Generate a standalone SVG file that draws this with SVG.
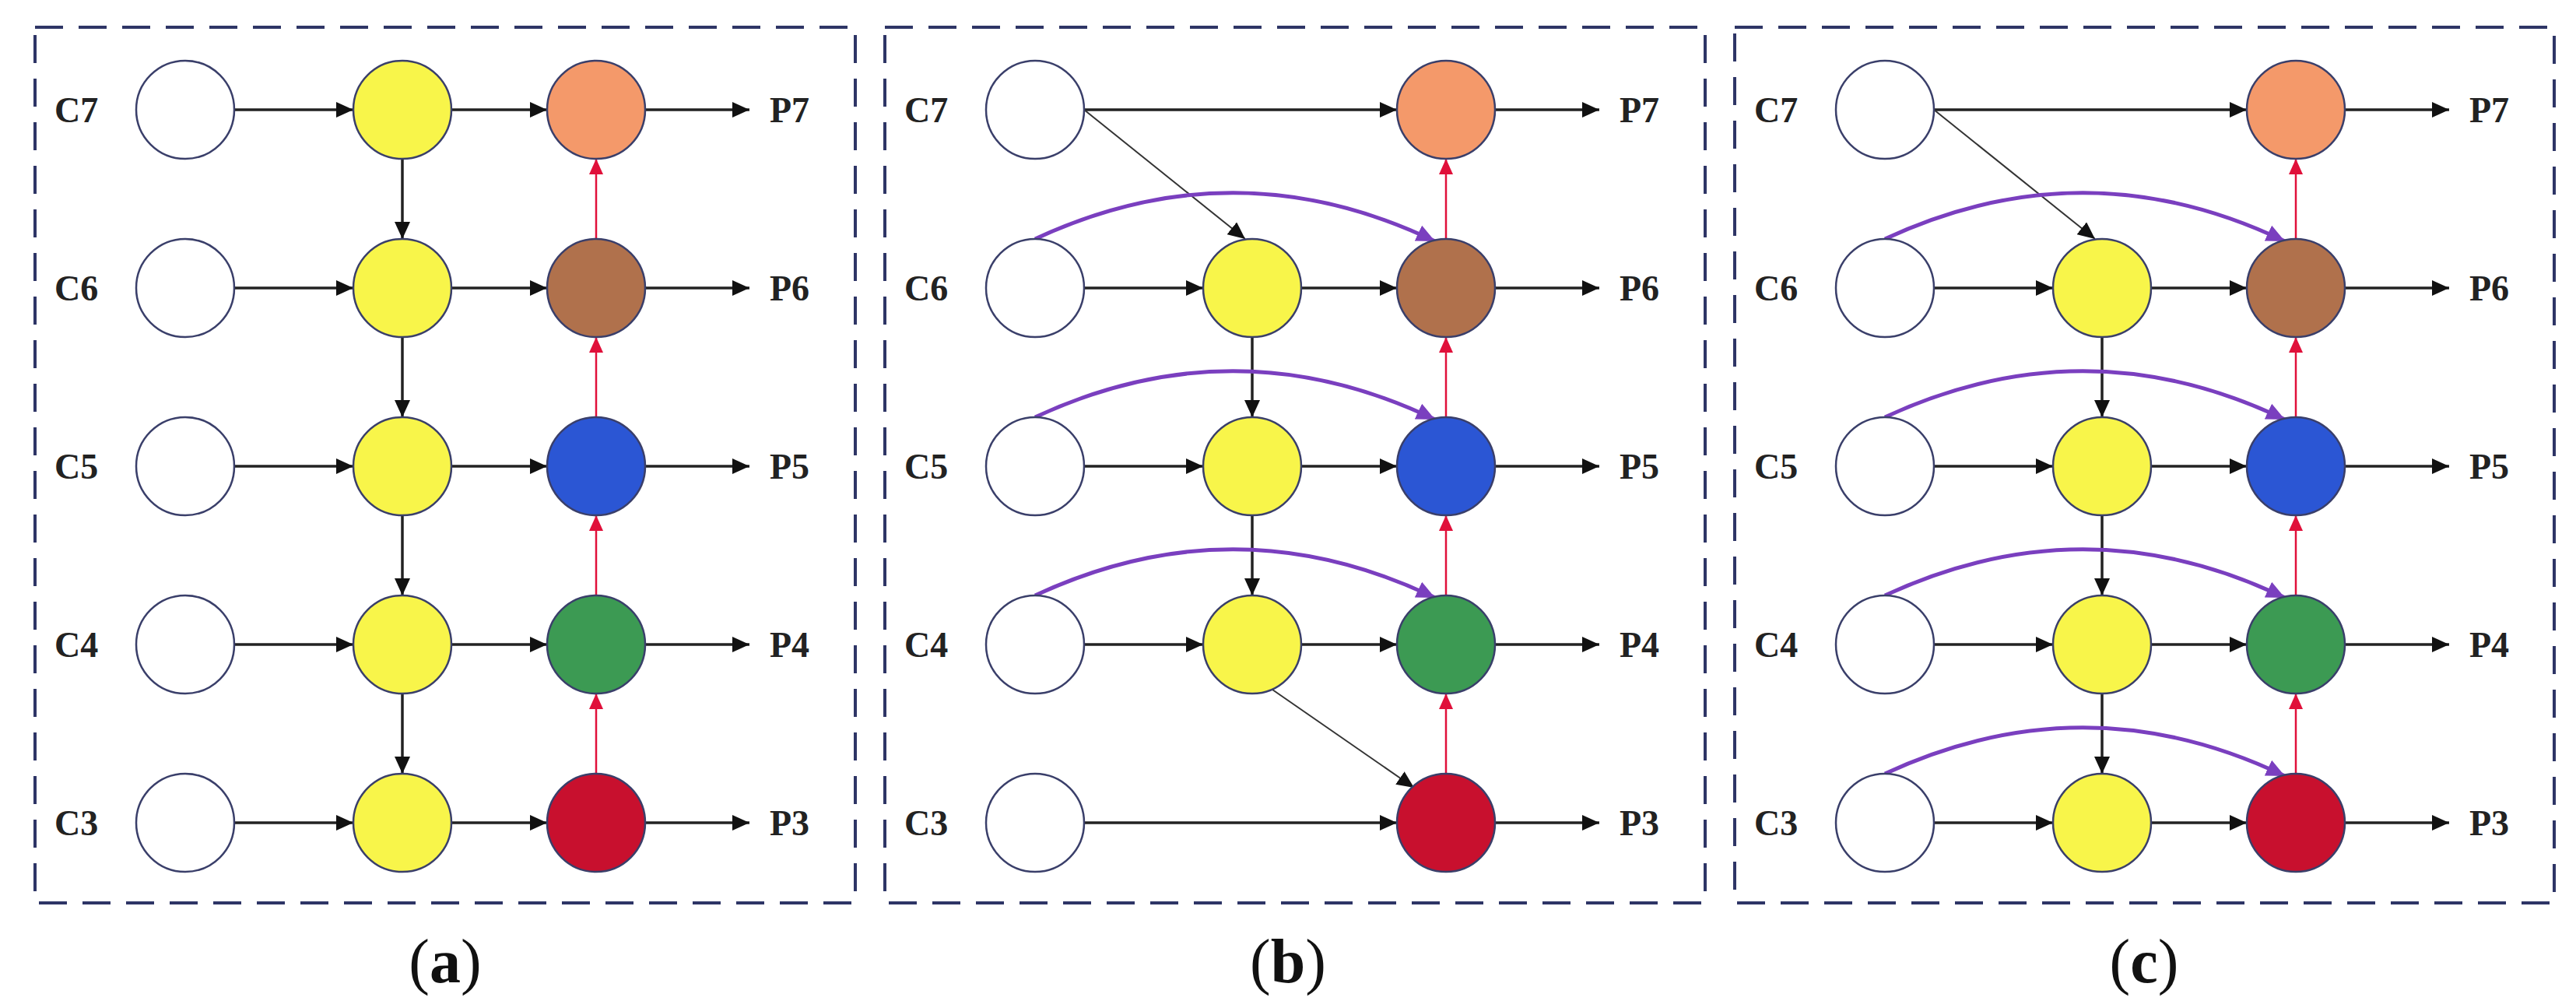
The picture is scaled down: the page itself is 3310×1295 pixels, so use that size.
<svg xmlns="http://www.w3.org/2000/svg" width="3310" height="1295" viewBox="0 0 3310 1295">
<defs>
<style>
.frame{fill:none;stroke:#2e3566;stroke-width:4;stroke-dasharray:36 20}
.n{stroke:#3a3f6a;stroke-width:2.5}
.w{fill:#fff}.y{fill:#f8f54a}.o{fill:#f4996a}.b{fill:#b0714c}.u{fill:#2b56d4}.g{fill:#3c9a53}.r{fill:#c8102e}
.lbl{font-family:"Liberation Serif",serif;font-size:46px;font-weight:bold;fill:#222}
.cap{font-family:"Liberation Serif",serif;font-size:80px;fill:#111}
.k{stroke:#222;stroke-width:3.5;fill:none;marker-end:url(#ak)}
.kt{stroke:#333;stroke-width:2;fill:none;marker-end:url(#ak)}
.rd{stroke:#e0103a;stroke-width:2.5;fill:none;marker-end:url(#ar)}
.pu{stroke:#7a3fbf;stroke-width:5;fill:none;marker-end:url(#ap)}
</style>
<marker id="ak" markerUnits="userSpaceOnUse" markerWidth="24" markerHeight="20" refX="22" refY="10" orient="auto"><path d="M0,0 L22,10 L0,20 Z" fill="#111"/></marker>
<marker id="ar" markerUnits="userSpaceOnUse" markerWidth="22" markerHeight="18" refX="20" refY="9" orient="auto"><path d="M0,0 L20,9 L0,18 Z" fill="#e0103a"/></marker>
<marker id="ap" markerUnits="userSpaceOnUse" markerWidth="26" markerHeight="22" refX="24" refY="11" orient="auto"><path d="M0,0 L24,11 L0,22 Z" fill="#7a3fbf"/></marker>
</defs>
<rect width="3310" height="1295" fill="#fff"/>
<g id="frames">
<rect class="frame" x="45" y="35" width="1054" height="1125"/>
<rect class="frame" x="1137" y="35" width="1054" height="1125"/>
<rect class="frame" x="2229" y="35" width="1053" height="1125"/>
</g>
<g id="connectors">
<!-- panel a -->
<path class="k" d="M301,141H454"/><path class="k" d="M301,370H454"/><path class="k" d="M301,599H454"/><path class="k" d="M301,828H454"/><path class="k" d="M301,1057H454"/>
<path class="k" d="M580,141H703"/><path class="k" d="M580,370H703"/><path class="k" d="M580,599H703"/><path class="k" d="M580,828H703"/><path class="k" d="M580,1057H703"/>
<path class="k" d="M829,141H963"/><path class="k" d="M829,370H963"/><path class="k" d="M829,599H963"/><path class="k" d="M829,828H963"/><path class="k" d="M829,1057H963"/>
<path class="k" d="M517,204V307"/><path class="k" d="M517,433V536"/><path class="k" d="M517,662V765"/><path class="k" d="M517,891V994"/>
<path class="rd" d="M766,994V891"/><path class="rd" d="M766,765V662"/><path class="rd" d="M766,536V433"/><path class="rd" d="M766,307V204"/>
<!-- panel b -->
<path class="k" d="M1393,141H1795"/>
<path class="kt" d="M1393,141L1600,307"/>
<path class="k" d="M1393,370H1546"/><path class="k" d="M1393,599H1546"/><path class="k" d="M1393,828H1546"/>
<path class="k" d="M1672,370H1795"/><path class="k" d="M1672,599H1795"/><path class="k" d="M1672,828H1795"/>
<path class="k" d="M1393,1057H1795"/>
<path class="kt" d="M1635,886L1817,1012"/>
<path class="k" d="M1609,433V536"/><path class="k" d="M1609,662V765"/>
<path class="k" d="M1921,141H2055"/><path class="k" d="M1921,370H2055"/><path class="k" d="M1921,599H2055"/><path class="k" d="M1921,828H2055"/><path class="k" d="M1921,1057H2055"/>
<path class="rd" d="M1858,994V891"/><path class="rd" d="M1858,765V662"/><path class="rd" d="M1858,536V433"/><path class="rd" d="M1858,307V204"/>
<path class="pu" d="M1330,307Q1588,187 1844,310"/>
<path class="pu" d="M1330,536Q1588,416 1844,539"/>
<path class="pu" d="M1330,765Q1588,645 1844,768"/>
<!-- panel c -->
<path class="k" d="M2485,141H2887"/>
<path class="kt" d="M2485,141L2692,307"/>
<path class="k" d="M2485,370H2638"/><path class="k" d="M2485,599H2638"/><path class="k" d="M2485,828H2638"/><path class="k" d="M2485,1057H2638"/>
<path class="k" d="M2764,370H2887"/><path class="k" d="M2764,599H2887"/><path class="k" d="M2764,828H2887"/><path class="k" d="M2764,1057H2887"/>
<path class="k" d="M2701,433V536"/><path class="k" d="M2701,662V765"/><path class="k" d="M2701,891V994"/>
<path class="k" d="M3013,141H3147"/><path class="k" d="M3013,370H3147"/><path class="k" d="M3013,599H3147"/><path class="k" d="M3013,828H3147"/><path class="k" d="M3013,1057H3147"/>
<path class="rd" d="M2950,994V891"/><path class="rd" d="M2950,765V662"/><path class="rd" d="M2950,536V433"/><path class="rd" d="M2950,307V204"/>
<path class="pu" d="M2422,307Q2680,187 2936,310"/>
<path class="pu" d="M2422,536Q2680,416 2936,539"/>
<path class="pu" d="M2422,765Q2680,645 2936,768"/>
<path class="pu" d="M2422,994Q2680,874 2936,997"/>
</g>
<g id="panel-a">
<g id="a-C7"><text class="lbl" x="70" y="157">C7</text><circle class="n w" cx="238" cy="141" r="63"/></g>
<g id="a-C6"><text class="lbl" x="70" y="386">C6</text><circle class="n w" cx="238" cy="370" r="63"/></g>
<g id="a-C5"><text class="lbl" x="70" y="615">C5</text><circle class="n w" cx="238" cy="599" r="63"/></g>
<g id="a-C4"><text class="lbl" x="70" y="844">C4</text><circle class="n w" cx="238" cy="828" r="63"/></g>
<g id="a-C3"><text class="lbl" x="70" y="1073">C3</text><circle class="n w" cx="238" cy="1057" r="63"/></g>
<g id="a-M"><circle class="n y" cx="517" cy="141" r="63"/><circle class="n y" cx="517" cy="370" r="63"/><circle class="n y" cx="517" cy="599" r="63"/><circle class="n y" cx="517" cy="828" r="63"/><circle class="n y" cx="517" cy="1057" r="63"/></g>
<g id="a-P7"><circle class="n o" cx="766" cy="141" r="63"/><text class="lbl" x="989" y="157">P7</text></g>
<g id="a-P6"><circle class="n b" cx="766" cy="370" r="63"/><text class="lbl" x="989" y="386">P6</text></g>
<g id="a-P5"><circle class="n u" cx="766" cy="599" r="63"/><text class="lbl" x="989" y="615">P5</text></g>
<g id="a-P4"><circle class="n g" cx="766" cy="828" r="63"/><text class="lbl" x="989" y="844">P4</text></g>
<g id="a-P3"><circle class="n r" cx="766" cy="1057" r="63"/><text class="lbl" x="989" y="1073">P3</text></g>
<text class="cap" x="572" y="1262" text-anchor="middle">(<tspan font-weight="bold">a</tspan>)</text>
</g>
<g id="panel-b">
<g id="b-C7"><text class="lbl" x="1162" y="157">C7</text><circle class="n w" cx="1330" cy="141" r="63"/></g>
<g id="b-C6"><text class="lbl" x="1162" y="386">C6</text><circle class="n w" cx="1330" cy="370" r="63"/></g>
<g id="b-C5"><text class="lbl" x="1162" y="615">C5</text><circle class="n w" cx="1330" cy="599" r="63"/></g>
<g id="b-C4"><text class="lbl" x="1162" y="844">C4</text><circle class="n w" cx="1330" cy="828" r="63"/></g>
<g id="b-C3"><text class="lbl" x="1162" y="1073">C3</text><circle class="n w" cx="1330" cy="1057" r="63"/></g>
<g id="b-M"><circle class="n y" cx="1609" cy="370" r="63"/><circle class="n y" cx="1609" cy="599" r="63"/><circle class="n y" cx="1609" cy="828" r="63"/></g>
<g id="b-P7"><circle class="n o" cx="1858" cy="141" r="63"/><text class="lbl" x="2081" y="157">P7</text></g>
<g id="b-P6"><circle class="n b" cx="1858" cy="370" r="63"/><text class="lbl" x="2081" y="386">P6</text></g>
<g id="b-P5"><circle class="n u" cx="1858" cy="599" r="63"/><text class="lbl" x="2081" y="615">P5</text></g>
<g id="b-P4"><circle class="n g" cx="1858" cy="828" r="63"/><text class="lbl" x="2081" y="844">P4</text></g>
<g id="b-P3"><circle class="n r" cx="1858" cy="1057" r="63"/><text class="lbl" x="2081" y="1073">P3</text></g>
<text class="cap" x="1655" y="1262" text-anchor="middle">(<tspan font-weight="bold">b</tspan>)</text>
</g>
<g id="panel-c">
<g id="c-C7"><text class="lbl" x="2254" y="157">C7</text><circle class="n w" cx="2422" cy="141" r="63"/></g>
<g id="c-C6"><text class="lbl" x="2254" y="386">C6</text><circle class="n w" cx="2422" cy="370" r="63"/></g>
<g id="c-C5"><text class="lbl" x="2254" y="615">C5</text><circle class="n w" cx="2422" cy="599" r="63"/></g>
<g id="c-C4"><text class="lbl" x="2254" y="844">C4</text><circle class="n w" cx="2422" cy="828" r="63"/></g>
<g id="c-C3"><text class="lbl" x="2254" y="1073">C3</text><circle class="n w" cx="2422" cy="1057" r="63"/></g>
<g id="c-M"><circle class="n y" cx="2701" cy="370" r="63"/><circle class="n y" cx="2701" cy="599" r="63"/><circle class="n y" cx="2701" cy="828" r="63"/><circle class="n y" cx="2701" cy="1057" r="63"/></g>
<g id="c-P7"><circle class="n o" cx="2950" cy="141" r="63"/><text class="lbl" x="3173" y="157">P7</text></g>
<g id="c-P6"><circle class="n b" cx="2950" cy="370" r="63"/><text class="lbl" x="3173" y="386">P6</text></g>
<g id="c-P5"><circle class="n u" cx="2950" cy="599" r="63"/><text class="lbl" x="3173" y="615">P5</text></g>
<g id="c-P4"><circle class="n g" cx="2950" cy="828" r="63"/><text class="lbl" x="3173" y="844">P4</text></g>
<g id="c-P3"><circle class="n r" cx="2950" cy="1057" r="63"/><text class="lbl" x="3173" y="1073">P3</text></g>
<text class="cap" x="2755" y="1262" text-anchor="middle">(<tspan font-weight="bold">c</tspan>)</text>
</g>
</svg>
